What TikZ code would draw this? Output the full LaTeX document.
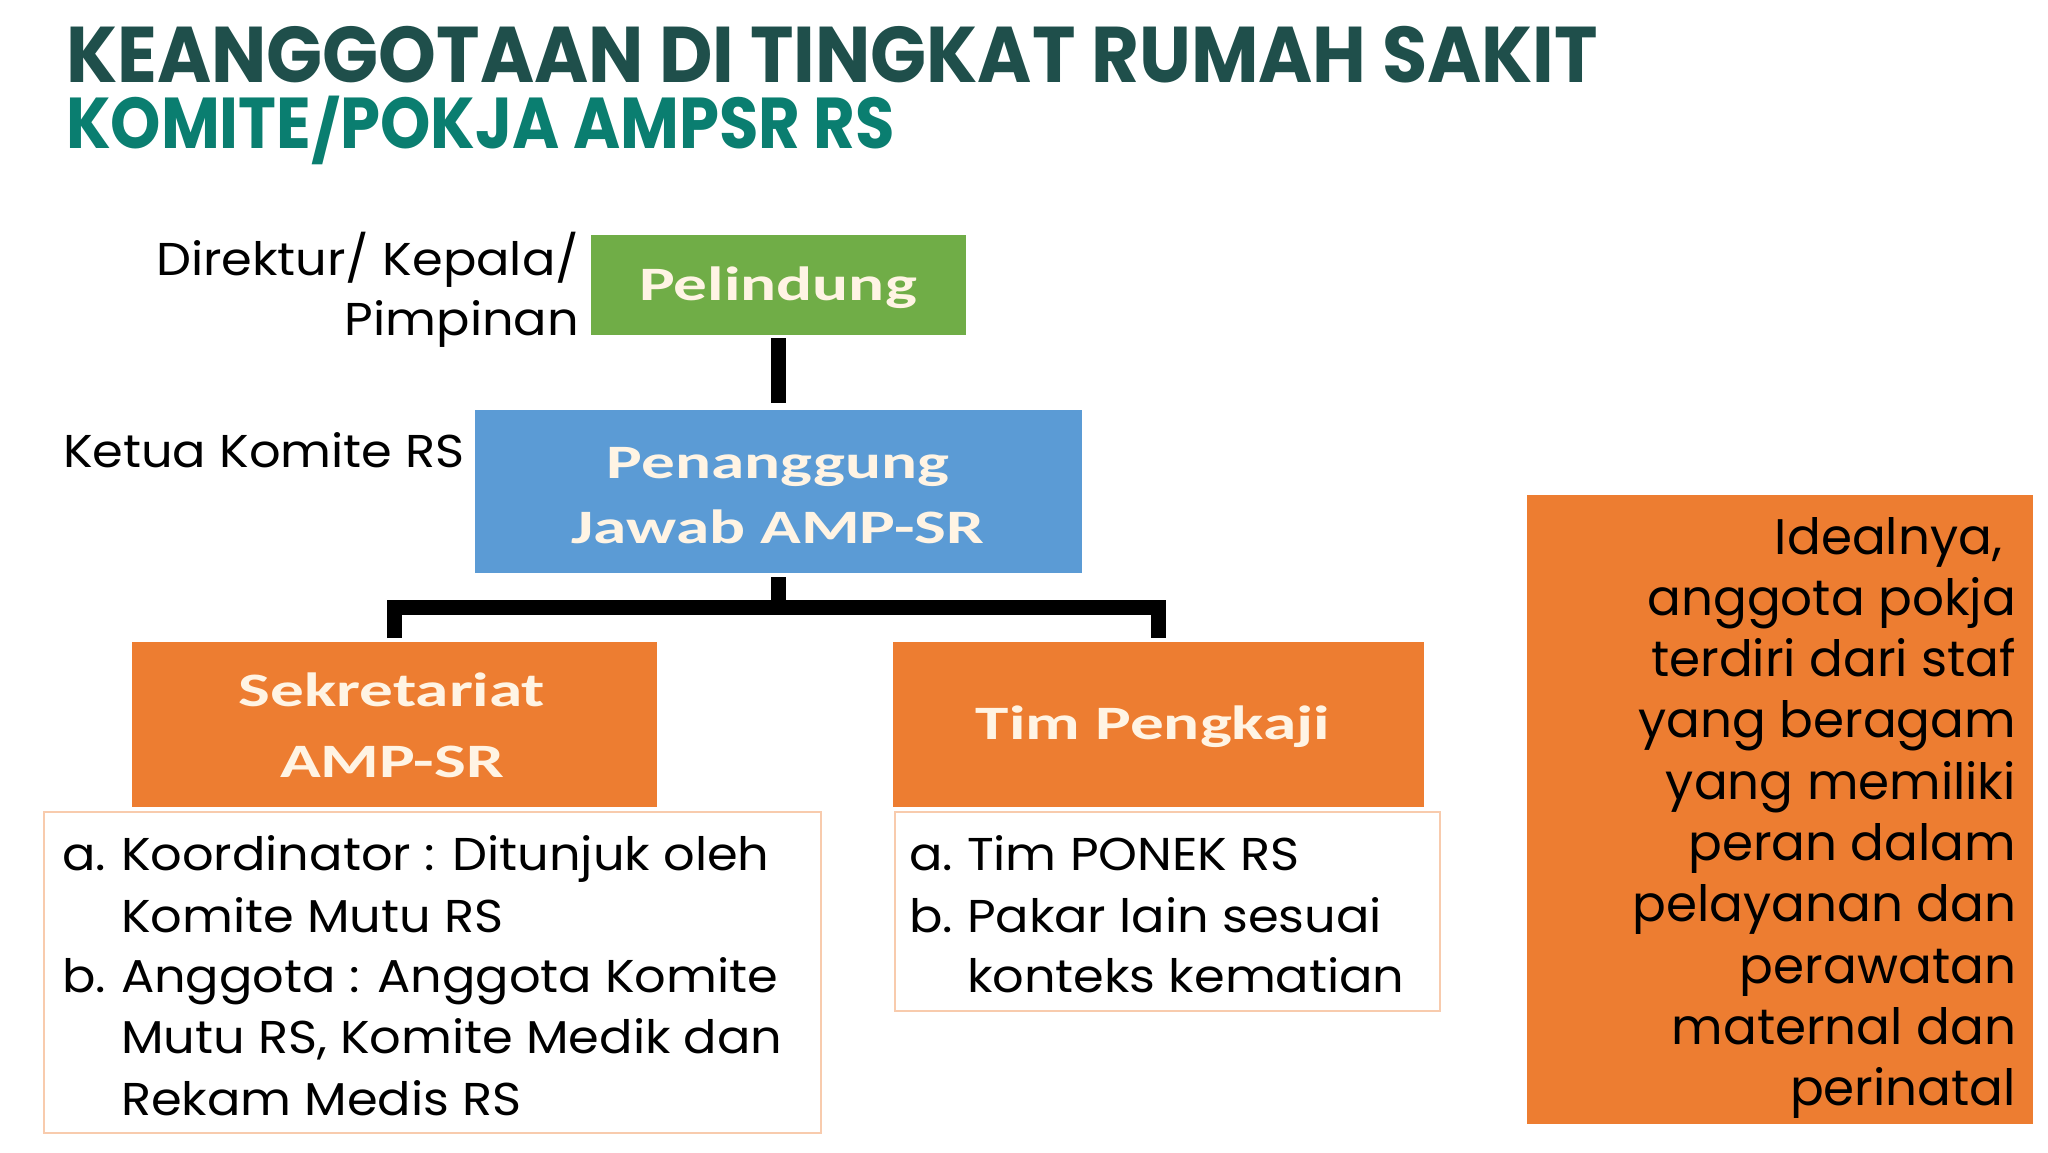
\documentclass[tikz,border=0pt]{standalone}
\usepackage{fontspec}
\usepackage{graphicx}
\setmainfont{Poppins}
\newfontfamily\labelfont{Carlito}
\definecolor{titledark}{HTML}{1F4F4B}
\definecolor{titleteal}{HTML}{0A7E70}
\definecolor{gbox}{HTML}{70AD47}
\definecolor{bbox}{HTML}{5B9BD5}
\definecolor{obox}{HTML}{ED7D31}
\definecolor{oline}{HTML}{F8CBAD}
\definecolor{labtxt}{HTML}{FFF4E4}
\tikzset{
  lab/.style={anchor=base, text=labtxt, font=\fontsize{48}{48}\selectfont\labelfont\bfseries},
  side/.style={font=\fontsize{46}{46}\selectfont, text=black},
  listtxt/.style={anchor=base west, font=\fontsize{46}{46}\selectfont, text=black},
  notetxt/.style={anchor=base east, font=\fontsize{50}{50}\selectfont, text=black},
  conn/.style={line width=15pt, black, line join=miter}
}
\newcommand{\sxl}[1]{\scalebox{1.4}[1]{#1}}
\newcommand{\sxb}[1]{\scalebox{1.075}[1]{#1}}
\begin{document}
\begin{tikzpicture}[x=1pt,y=-1pt, every node/.style={inner sep=0pt, outer sep=0pt}]
\useasboundingbox (0,0) rectangle (2048,1152);
\fill[white] (0,0) rectangle (2048,1152);

% titles
\node[anchor=base west, text=titledark, font=\fontsize{79}{79}\selectfont\bfseries] (t1) at (66,82)
  {\resizebox{1532pt}{\height}{KEANGGOTAAN DI TINGKAT RUMAH SAKIT}};
\node[anchor=base west, text=titleteal, font=\fontsize{72}{72}\selectfont\bfseries] (t2) at (66,148)
  {\resizebox{829pt}{\height}{KOMITE\raisebox{-5pt}{\scalebox{1}[0.84]{/}}POKJA AMPSR RS}};

% boxes
\node[fill=gbox, minimum width=375pt, minimum height=100pt] (pel) at (778.5,285) {};
\node[fill=bbox, minimum width=607pt, minimum height=163pt] (pj) at (778.5,491.5) {};
\node[fill=obox, minimum width=525pt, minimum height=165pt] (sek) at (394.5,724.5) {};
\node[fill=obox, minimum width=531pt, minimum height=165pt] (tim) at (1158.5,724.5) {};
\node[draw=oline, line width=2pt, fill=white, minimum width=777pt, minimum height=321pt] (listL) at (432.5,972.5) {};
\node[draw=oline, line width=2pt, fill=white, minimum width=545pt, minimum height=199pt] (listR) at (1167.5,911.5) {};
\node[fill=obox, minimum width=506pt, minimum height=629pt] (note) at (1780,809.5) {};

% connectors
\coordinate (bar) at (777,607);
\draw[conn, shorten <=3pt, shorten >=7pt] (pel) -- (pj);
\draw[conn, shorten <=4pt] (pj.south) -- (pj.south |- bar);
\draw[conn, shorten <=4pt, shorten >=4pt] (sek.north) |- (bar) -| (tim.north);

% box labels
\node[lab] (lpel) at (778,300) {\sxl{Pelindung}};
\node[lab] (lpj1) at (778,478) {\sxl{Penanggung}};
\node[lab] (lpj2) at (778,543) {\sxl{Jawab AMP-SR}};
\node[lab] (lsek1) at (392,706) {\sxl{Sekretariat}};
\node[lab] (lsek2) at (392,777) {\sxl{AMP-SR}};
\node[lab] (ltim) at (1153,739) {\sxl{Tim Pengkaji}};

% side labels
\node[side, anchor=base east] (s1) at (579,275) {\sxb{Direktur/ Kepala/}};
\node[side, anchor=base east] (s2) at (579,335) {\sxb{Pimpinan}};
\node[side, anchor=base west] (s3) at (63,467) {\sxb{Ketua Komite RS}};

% left list
\node[listtxt] (la) at (62,870) {\sxb{a.}};
\node[listtxt] (la1) at (121,870) {\sxb{Koordinator : Ditunjuk oleh}};
\node[listtxt] (la2) at (121,932) {\sxb{Komite Mutu RS}};
\node[listtxt] (lb) at (62,992) {\sxb{b.}};
\node[listtxt] (lb1) at (121,992) {\sxb{Anggota : Anggota Komite}};
\node[listtxt] (lb2) at (121,1053) {\sxb{Mutu RS, Komite Medik dan}};
\node[listtxt] (lb3) at (121,1115) {\sxb{Rekam Medis RS}};

% right list
\node[listtxt] (ra) at (909,870) {\sxb{a.}};
\node[listtxt] (ra1) at (967,870) {\sxb{Tim PONEK RS}};
\node[listtxt] (rb) at (909,932) {\sxb{b.}};
\node[listtxt] (rb1) at (967,932) {\sxb{Pakar lain sesuai}};
\node[listtxt] (rb2) at (967,992) {\sxb{konteks kematian}};

% note text
\node[notetxt] (n1) at (2002,554) {Idealnya,};
\foreach \t [count=\i from 1] in {anggota pokja, terdiri dari staf, yang beragam, yang memiliki, peran dalam, pelayanan dan, perawatan, maternal dan, perinatal}
  \node[notetxt] (n\i x) at (2016,554+61.3*\i) {\t};
\end{tikzpicture}
\end{document}
